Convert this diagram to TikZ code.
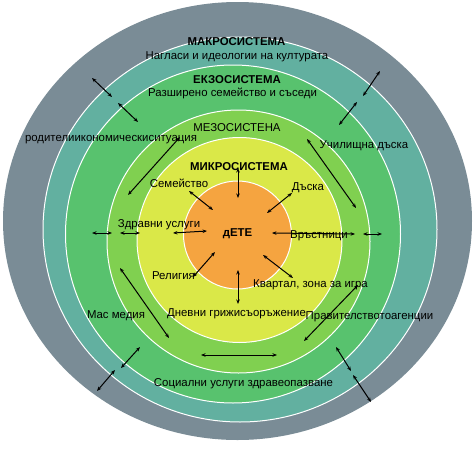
\documentclass[tikz,border=0pt]{standalone}
\usepackage{fontspec}
\setmainfont{Liberation Sans}
\usetikzlibrary{arrows.meta}
\definecolor{macrocol}{RGB}{122,140,150}
\definecolor{exocolout}{RGB}{98,176,160}
\definecolor{exocol}{RGB}{88,194,110}
\definecolor{mesocol}{RGB}{128,208,80}
\definecolor{microcol}{RGB}{218,232,72}
\definecolor{childcol}{RGB}{245,164,64}
\tikzset{
  ring/.style={draw=white,line width=1pt},
  lbl/.style={anchor=base,inner sep=0pt,font=\fontsize{11.4}{13}\selectfont},
  syslbl/.style={anchor=base,inner sep=0pt,font=\fontsize{11.4}{13}\selectfont\bfseries},
  twoway/.style={{Stealth[length=4.5pt,width=3.5pt]}-{Stealth[length=4.5pt,width=3.5pt]},line width=1pt}
}
\begin{document}
\begin{tikzpicture}[x=1pt,y=-1pt]
        \useasboundingbox (0,0) rectangle (474,450);
        % rings, outside in
        \fill[macrocol] (237.5,221) ellipse [x radius=234.5pt,y radius=219pt];
        \filldraw[ring,fill=exocolout] (240,229.5) ellipse [x radius=197pt,y radius=192.5pt];
        \filldraw[ring,fill=exocol] (233,234) ellipse [x radius=167.5pt,y radius=169pt];
        \filldraw[ring,fill=mesocol] (238.5,241.5) circle [radius=131.5pt];
        \filldraw[ring,fill=microcol] (239.5,240) circle [radius=102.5pt];
        \filldraw[ring,fill=childcol] (237.5,235) circle [radius=54pt];

        % labels
        \node[syslbl] (macro) at (236.5,45) {МАКРОСИСТЕМА};
        \node[lbl] (macrotxt) at (237,59) {Нагласи и идеологии на културата};
        \node[syslbl] (exo) at (237,83) {ЕКЗОСИСТЕМА};
        \node[lbl] (exotxt) at (232.5,96) {Разширено семейство и съседи};
        \node[lbl] (parents) at (111,141) {родителиикономическиситуация};
        \node[lbl] (meso) at (237,131) {МЕЗОСИСТЕНА};
        \node[lbl] (school) at (364,148) {Училищна дъска};
        \node[syslbl] (micro) at (239,170) {МИКРОСИСТЕМА};
        \node[lbl] (family) at (179,187) {Семейство};
        \node[lbl] (board) at (308,190) {Дъска};
        \node[lbl] (health) at (159,227) {Здравни услуги};
        \node[syslbl] (child) at (237.5,236) {дЕТЕ};
        \node[lbl] (peers) at (319,238) {Връстници};
        \node[lbl] (religion) at (173.5,279) {Религия};
        \node[lbl] (neighb) at (310.5,287) {Квартал, зона за игра};
        \node[lbl] (daycare) at (236.5,316) {Дневни грижисъоръжение};
        \node[lbl] (media) at (116,318) {Мас медия};
        \node[lbl] (gov) at (369.5,319) {Правителствотоагенции};
        \node[lbl] (social) at (243.5,386) {Социални услуги здравеопазване};

        % arrow ends
        \coordinate (nwo1) at (92,78);   \coordinate (nwo2) at (112,97);
        \coordinate (nwi1) at (118,103); \coordinate (nwi2) at (138,122);
        \coordinate (neo1) at (380,71);  \coordinate (neo2) at (363,96);
        \coordinate (nei1) at (357,102); \coordinate (nei2) at (339,125);
        \coordinate (wl1) at (180,137);  \coordinate (wl2) at (128,195);
        \coordinate (el1) at (307,139);  \coordinate (el2) at (356,208);
        \coordinate (wo1) at (92,233);   \coordinate (wo2) at (112,233);
        \coordinate (wi1) at (120,233);  \coordinate (wi2) at (140,233);
        \coordinate (wh1) at (173,233);  \coordinate (wh2) at (207,231);
        \coordinate (ep1) at (272,233);  \coordinate (ep2) at (355,234);
        \coordinate (eo1) at (363,234);  \coordinate (eo2) at (382,234);
        \coordinate (mt1) at (238,168);  \coordinate (mt2) at (238,198);
        \coordinate (mb1) at (238,270);  \coordinate (mb2) at (238,304);
        \coordinate (fam1) at (189,191); \coordinate (fam2) at (213,210);
        \coordinate (brd1) at (292,193); \coordinate (brd2) at (267,213);
        \coordinate (rel1) at (193,277); \coordinate (rel2) at (215,252);
        \coordinate (nbh1) at (293,278); \coordinate (nbh2) at (263,255);
        \coordinate (swl1) at (120,268); \coordinate (swl2) at (169,338);
        \coordinate (sel1) at (358,285); \coordinate (sel2) at (304,341);
        \coordinate (sb1) at (201,355);  \coordinate (sb2) at (277,355);
        \coordinate (swi1) at (140,347); \coordinate (swi2) at (121,368);
        \coordinate (swo1) at (115,370); \coordinate (swo2) at (97,391);
        \coordinate (sei1) at (336,347); \coordinate (sei2) at (351,371);
        \coordinate (seo1) at (353,375); \coordinate (seo2) at (371,402);

        \draw[twoway] (nwo1) -- (nwo2);
        \draw[twoway] (nwi1) -- (nwi2);
        \draw[twoway] (neo1) -- (neo2);
        \draw[twoway] (nei1) -- (nei2);
        \draw[twoway] (wl1) -- (wl2);
        \draw[twoway] (el1) -- (el2);
        \draw[twoway] (wo1) -- (wo2);
        \draw[twoway] (wi1) -- (wi2);
        \draw[twoway] (wh1) -- (wh2);
        \draw[twoway] (ep1) -- (ep2);
        \draw[twoway] (eo1) -- (eo2);
        \draw[twoway] (mt1) -- (mt2);
        \draw[twoway] (mb1) -- (mb2);
        \draw[twoway] (fam1) -- (fam2);
        \draw[twoway] (brd1) -- (brd2);
        \draw[twoway] (rel1) -- (rel2);
        \draw[twoway] (nbh1) -- (nbh2);
        \draw[twoway] (swl1) -- (swl2);
        \draw[twoway] (sel1) -- (sel2);
        \draw[twoway] (sb1) -- (sb2);
        \draw[twoway] (swi1) -- (swi2);
        \draw[twoway] (swo1) -- (swo2);
        \draw[twoway] (sei1) -- (sei2);
        \draw[twoway] (seo1) -- (seo2);
      \end{tikzpicture}
\end{document}
